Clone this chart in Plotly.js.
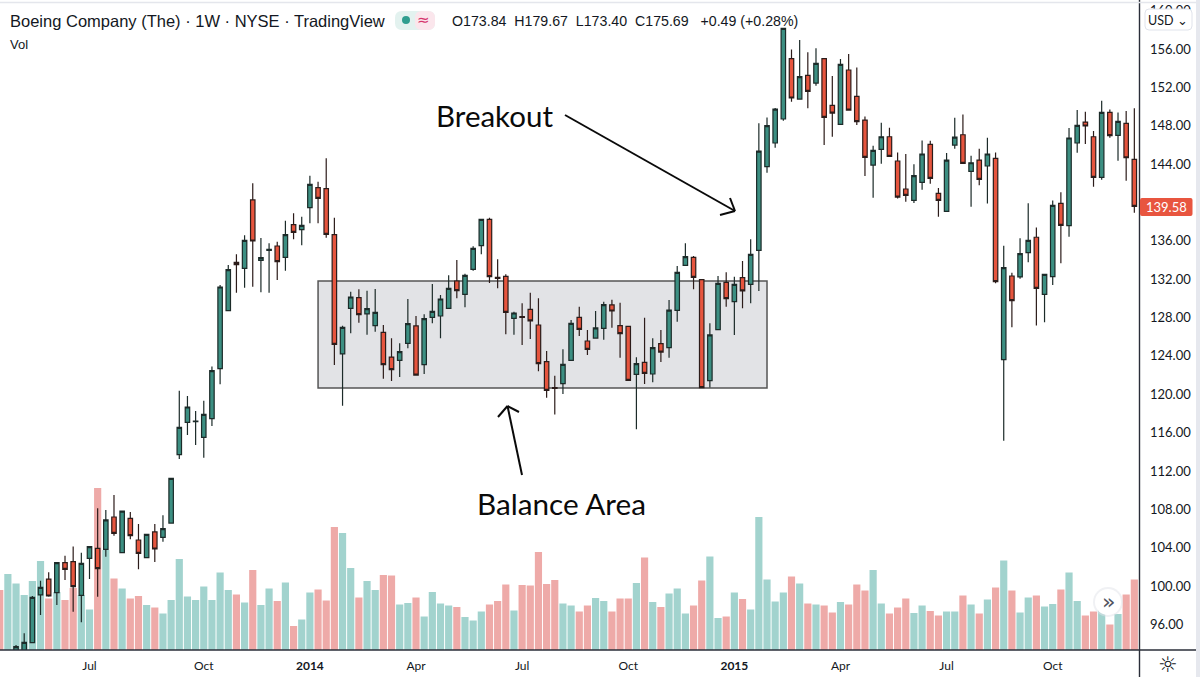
<!DOCTYPE html>
<html><head><meta charset="utf-8">
<script src="https://cdn.plot.ly/plotly-3.0.1.min.js"></script>
<style>html,body{margin:0;padding:0;background:#fff}#c{width:1200px;height:677px}</style>
</head><body><div id="c"></div>
<script>
const firstWeek = '2013-04-15';
const opens = [92.6,92.2,93.1,92.8,94.09,99.07,100.73,99.31,102.44,102.54,99.03,102.89,103.93,103.83,107.2,103.48,107.06,104.8,102.96,105.64,105.08,106.57,113.7,117.07,117.14,115.51,117.45,122.67,128.72,133.76,133.13,140.26,133.96,135.01,135.46,134.28,137.68,137.16,139.46,141.54,141.44,136.64,124.2,128.96,130.07,128.37,127.15,126.45,123.88,123.54,125.31,127.12,123.08,128.02,128.16,128.96,131.81,130.42,133.02,135.49,138.24,132.19,132.3,127.91,128.09,128.85,127.22,123.4,120.69,121.1,123.54,128.02,125.55,125.86,126.87,129.31,127.15,127.08,122.07,123.33,122.11,125.27,124.86,128.75,133.44,134.28,131.95,121.42,126.74,131.67,129.65,132.16,131.46,135,143.73,146.2,148.7,154.99,150.78,153.25,152.45,154.99,150.12,148.14,153.81,151.06,148.59,143.9,145.53,146.85,144.32,141.4,140.21,142.09,146.06,140.95,139.07,145.98,147.06,143.24,144.42,143.8,144.59,123.6,132.33,132.23,134.77,136.37,130.42,132.26,139.91,137.58,146.2,148.38,146.85,142.61,149.39,147,148.25,144.49];
const highs = [92.9,93,93.85,95.07,98.96,100.56,101.43,102.51,103.17,104.11,103.48,104.18,108.1,107.93,109.49,107.85,107.72,106.47,105.39,106.47,107.37,111.23,120.37,119.82,118.25,119.33,122.88,131.39,133.48,134.59,136.57,141.99,136.29,135.74,135.91,138.1,138.87,138.52,142.79,142.17,144.6,138.41,127.15,130.7,130.94,130.8,130.97,127.22,125.83,125.31,129.93,128.16,128.33,131.5,130.35,132.4,134,132.57,135.42,138.24,138.41,134.07,132.5,128.61,129.48,130.59,130,124.51,121.94,124.68,127.74,129.13,126.7,128.68,129.65,129.86,129.55,127.08,123.85,127.98,125.83,126.7,129.83,133.37,135.74,134.42,132.02,127.39,132.33,132.71,132.26,133.89,136.15,148.25,148.87,149.85,158.2,155.96,156.94,155.65,156.07,154.99,153.18,154.95,155.47,154.08,148.97,145.92,148.31,147.79,145.22,145.05,143.97,146.47,146.44,141.5,145.15,148.84,149.18,144.87,145.6,146.75,145.22,135.49,132.68,136.26,139.91,137.4,132.5,140.21,141.05,147.76,149.63,149.46,147.45,150.61,149.7,149.39,149.53,149.81];
const lows = [92,92,93,92.5,94.03,96.98,98.89,98.02,100.63,97.33,96.22,100.73,98.89,103.06,105.25,103.45,104.87,101.74,102.96,102.51,104.63,106.57,113.25,115.75,114.71,113.39,116.69,121.03,128.65,130.59,131.11,131.22,130.63,130.59,131.91,132.89,136.15,135.53,137.82,137.82,136.33,123.05,118.81,126.35,127.46,126.21,126.52,121.62,121.38,121.8,124.79,121.94,122.11,127.39,125.83,128.96,130,129.06,132.89,134.59,131.6,131.04,126.25,126.21,125.13,125.76,122.39,119.64,117.9,120.03,123.54,126.07,124.09,125.86,125.69,126.94,123.81,121.45,116.34,121.07,121.24,123.36,123.81,127.57,133.44,130.94,120.62,120.69,126.74,129.13,126.18,128.96,129.48,130.76,143.1,145.71,148.52,150.51,150.78,149.81,152.17,145.98,146.85,148.07,149.57,148.07,142.75,140.49,144.04,144.77,140.42,140.08,139.94,141.33,141.95,138.51,139.07,145.6,144.07,139.55,141.78,139.9,131.57,115.16,126.98,132.05,133.76,127.18,127.5,131.39,133.65,136.43,145.19,146.09,141.64,142.37,146.75,144.35,142.27,138.93];
const closes = [92.2,92.9,93.68,94.13,98.82,99.86,98.96,102.44,101.74,99.93,102.37,104.11,101.81,106.89,105.5,107.82,105.25,103.41,105.39,103.86,105.98,111.23,116.55,118.67,117.21,117.9,122.46,131.18,132.99,133.51,136.05,135.98,134.24,135.11,133.83,136.64,136.88,137.61,141.89,140.43,136.68,125.2,126.98,130.14,128.3,128.92,128.54,123.08,122.56,124.44,127.36,122,127.88,128.64,129.93,131.04,130.8,132.4,135.21,138.24,132.26,132.09,128.54,128.47,128.02,127.64,123.19,120.41,120.62,123.12,127.39,126.77,124.68,126.91,129.34,128.68,126.32,121.45,123.19,122.18,124.86,124.4,128.78,132.71,134.35,132.19,120.69,126.18,131.57,129.97,131.46,130.77,134.59,145.36,148,149.74,158.15,150.89,153.11,151.58,154.5,148.87,149.32,154.4,149.63,148.42,144.7,145.43,146.85,144.8,140.56,140.74,142.79,145.05,142.51,140.21,144.42,146.82,144.07,144.14,142.4,145.05,131.74,133.2,129.76,134.66,136.05,131.04,132.5,139.7,137.61,146.72,148.04,147.97,142.61,149.39,146.96,148.45,144.66,139.58];
const volumes = [12,15.2,13.3,11,13.8,17.8,10.3,11.6,10,12.4,11,8.1,32.4,20,14.3,12.3,10.3,10.8,9,8.5,7.3,10,18.2,10.7,10,12.7,10,15.5,12,11.1,9.5,16,9,12.3,9.8,13.5,4.8,6.1,11.5,12.1,9.9,24.6,23.4,16.4,10.5,13.8,12,15,14.9,9.1,9.4,10.5,6.7,11.6,9.3,8.9,8.6,6.6,5.9,7.7,9.1,9.8,13.1,7.9,13,12.9,19.6,13.2,14,9.3,8.9,7.7,8.9,10.4,9.8,7.7,10.3,10.3,13.4,18.5,9.6,8.6,11.3,12.3,7.3,8.9,13.9,18.7,6.4,6.7,11.5,10.2,8.1,26.6,14.1,9.7,11.5,14.7,13.3,9.3,9.1,8.9,7.5,9.6,9.1,13.1,11.9,16,9.3,7.3,8.5,10.3,7.4,8.9,7.8,6.9,7.7,7.7,10.9,9.1,7.3,10.1,12.5,17.9,11.9,7.5,10.5,10.9,8.7,9.2,12.1,15.5,9.8,6.9,7.7,8.4,5.1,7.2,11.1,14.1];
const tickDates = ['2013-07-01','2013-10-07','2014-01-06','2014-04-07','2014-07-07','2014-10-06','2015-01-05','2015-04-06','2015-07-06','2015-10-05'];
const tickLabels = ['Jul','Oct','<b>2014</b>','Apr','Jul','Oct','<b>2015</b>','Apr','Jul','Oct'];
const priceTicks = [96,100,104,108,112,116,120,124,128,132,136,140,144,148,152,156,160];
const priceTickLabels = ['96.00','100.00','104.00','108.00','112.00','116.00','120.00','124.00','128.00','132.00','136.00','','144.00','148.00','152.00','156.00','160.00'];

const W=1200,H=677,PW=1139,PH=650;
const px=x=>x/PW, py=y=>1-y/PH;
const weeks = opens.map((_,i)=>{const d=new Date(firstWeek+'T00:00:00Z');d.setUTCDate(d.getUTCDate()+7*i);return d.toISOString().slice(0,10);});
const TXT='#131722', UIFONT='Lato, sans-serif', HEAD='"Liberation Sans", Arial, sans-serif';
const ln=(x0,y0,x1,y1,c,w,layer)=>({type:'line',xref:'paper',yref:'paper',x0:px(x0),y0:py(y0),x1:px(x1),y1:py(y1),line:{color:c,width:w},layer:layer||'above'});
const rr=(x0,y0,x1,y1,r,fill,lc,lw)=>({type:'path',xref:'paper',yref:'paper',layer:'above',fillcolor:fill,line:{color:lc||fill,width:lw||0},
  path:`M${px(x0+r)},${py(y0)} L${px(x1-r)},${py(y0)} Q${px(x1)},${py(y0)} ${px(x1)},${py(y0+r)} L${px(x1)},${py(y1-r)} Q${px(x1)},${py(y1)} ${px(x1-r)},${py(y1)} L${px(x0+r)},${py(y1)} Q${px(x0)},${py(y1)} ${px(x0)},${py(y1-r)} L${px(x0)},${py(y0+r)} Q${px(x0)},${py(y0)} ${px(x0+r)},${py(y0)} Z`});
const note=(x,y,text,size,color,anchor,font,extra)=>Object.assign({xref:'paper',yref:'paper',x:px(x),y:py(y),text,showarrow:false,xanchor:anchor||'left',yanchor:'middle',font:{size,color,family:font||UIFONT}},extra||{});

const traces=[
 {type:'bar',x:weeks,y:volumes,xaxis:'x',yaxis:'y',marker:{color:opens.map((o,i)=>closes[i]>=o?'#a2d3ce':'#eeaaa8'),line:{width:0}},hoverinfo:'skip',showlegend:false},
 {type:'candlestick',x:weeks,open:opens,high:highs,low:lows,close:closes,xaxis:'x',yaxis:'y2',whiskerwidth:0,showlegend:false,hoverinfo:'skip',
  increasing:{line:{color:'#1c2b29',width:1.2},fillcolor:'#3c8f82'},decreasing:{line:{color:'#2c1c1a',width:1.2},fillcolor:'#e6553e'}}
];
const layout={
 width:W,height:H,margin:{l:0,r:W-PW,t:0,b:H-PH,pad:0},paper_bgcolor:'#fff',plot_bgcolor:'#fff',showlegend:false,bargap:0.12,boxgap:0.22,
 xaxis:{type:'date',range:['2013-04-15 06:00','2015-12-18'],tickmode:'array',tickvals:tickDates,ticktext:tickLabels,showgrid:false,zeroline:false,showline:false,ticks:'',tickfont:{size:12,color:TXT,family:UIFONT},rangeslider:{visible:false},ticklabelstandoff:7},
 yaxis:{range:[0,130],visible:false,fixedrange:true},
 yaxis2:{overlaying:'y',side:'right',range:[93.33,161.11],tickmode:'array',tickvals:priceTicks,ticktext:priceTickLabels,showgrid:false,zeroline:false,showline:false,ticks:'',tickfont:{size:13,color:TXT,family:UIFONT},ticklabelstandoff:10},
 shapes:[
  {type:'rect',xref:'x',yref:'y2',x0:'2014-01-13',x1:'2015-02-02',y0:120.65,y1:131.81,fillcolor:'#e2e3e6',line:{color:'#555',width:1.5},layer:'below'},
  ln(0,650,1196,650,'#2a2e39',1.4),
  ln(1139.5,0,1139.5,677,'#2a2e39',1.4),
  ln(0,2.5,1200,2.5,'#e4e6ec',1.5),
  {type:'rect',xref:'paper',yref:'paper',x0:px(1196),x1:px(1200),y0:py(0),y1:py(677),fillcolor:'#e6e8ee',line:{width:0},layer:'above'},
  // Breakout arrow
  ln(565,115,735,211,'#0a0a0a',2), ln(735,211,720,215,'#0a0a0a',2), ln(735,211,730,198,'#0a0a0a',2),
  // Balance arrow
  ln(522,475,507.5,406,'#0a0a0a',2), ln(507.5,406,498,417,'#0a0a0a',2), ln(507.5,406,519,412,'#0a0a0a',2),
  // Legend pill
  rr(395,11,435,30,7,'#e3f2ef'),
  rr(415,11,435,30,7,'#fbe6ec'),
  {type:'circle',xref:'paper',yref:'paper',x0:px(402),x1:px(410),y0:py(16),y1:py(24),fillcolor:'#2f9e8f',line:{width:0},layer:'above'},
  // USD button
  rr(1145,9,1192,30,4,'#ffffff','#e0e3eb',1),
  // last price
  rr(1140,198,1192.5,216,2,'#e8553f'),
  // scroll button
  {type:'circle',xref:'paper',yref:'paper',x0:px(1093),x1:px(1123),y0:py(587),y1:py(617),fillcolor:'rgba(225,228,234,.5)',line:{width:0},layer:'above'},
  {type:'circle',xref:'paper',yref:'paper',x0:px(1095),x1:px(1121),y0:py(589),y1:py(615),fillcolor:'#fff',line:{width:0},layer:'above'}
 ],
 annotations:[
  note(8,21,'Boeing Company (The) · 1W · NYSE · TradingView',16.5,TXT,'left',HEAD),
  note(8,44,'Vol',13,TXT,'left',HEAD),
  note(450,21,'O173.84  H179.67  L173.40  C175.69   +0.49 (+0.28%)',14.2,TXT,'left',HEAD),
  note(424,19.5,'≈',15,'#d6336c','center','DejaVu Sans'),
  note(1168,20,'USD ⌄',12.5,TXT,'center',UIFONT),
  note(1166,207,'139.58',13,'#ffffff','center',UIFONT),
  note(1108,601,'»',22,'#50535e','center','DejaVu Sans'),
  note(1168,664,'☼',22,TXT,'center','DejaVu Sans'),
  note(434,115,'Breakout',29.5,'#0a0a0a','left','Lato, sans-serif'),
  note(475,503,'Balance Area',29.7,'#0a0a0a','left','Lato, sans-serif')
 ]
};
Plotly.newPlot('c',traces,layout,{displayModeBar:false,staticPlot:true});
</script></body></html>
